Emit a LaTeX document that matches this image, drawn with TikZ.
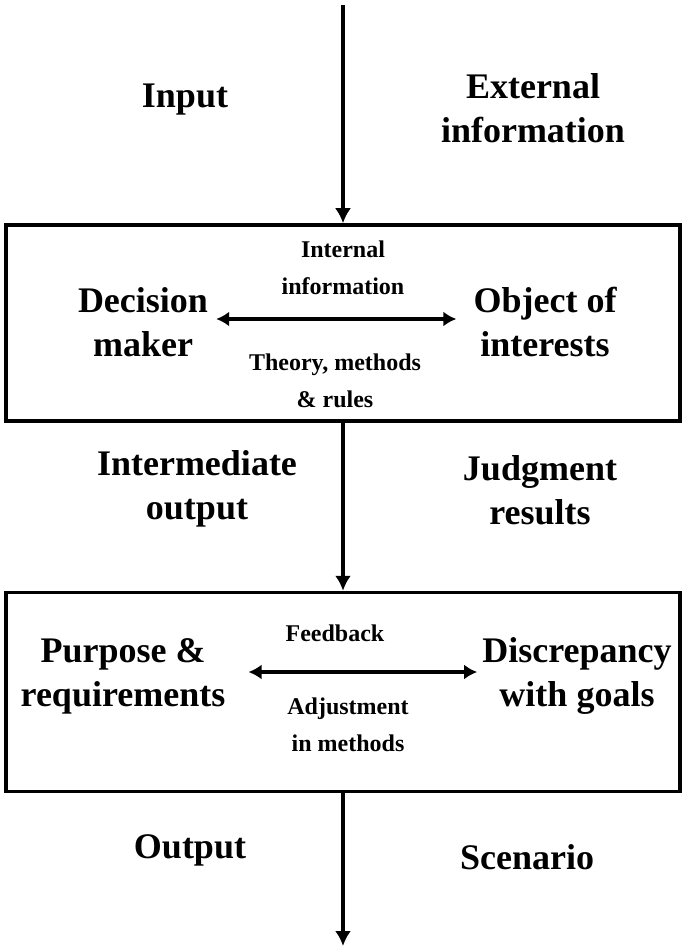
\documentclass[tikz,border=0pt]{standalone}
\usepackage{fontspec}
\setmainfont{Liberation Serif}
\usetikzlibrary{arrows.meta}

\begin{document}
\begin{tikzpicture}[
    x=1pt, y=-1pt,
    bigtext/.style={align=center, font=\fontsize{36}{44}\selectfont\bfseries, inner sep=3pt},
    smalltext/.style={align=center, font=\fontsize{24}{37}\selectfont\bfseries, inner sep=3pt},
    stagebox/.style={rectangle, draw=black, line width=3.5pt, minimum width=674pt, inner sep=0pt},
    arrow/.style={-{Latex[length=15pt, width=16pt]}, line width=3.5pt},
    biarrow/.style={{Latex[length=13pt, width=15pt]}-{Latex[length=13pt, width=15pt]}, line width=3.5pt},
]
\useasboundingbox (0,0) rectangle (685,949);

% === INPUT ===
\coordinate (start) at (343,5);
\node[bigtext] at (185,100) (input) {Input};
\node[bigtext] at (533,108) (external) {External\\information};

% === FIRST STAGE ===
\node[stagebox, minimum height=196pt] at (343,323) (stage1) {};
\node[smalltext] at (343,268) (internal) {Internal\\information};
\node[bigtext] at (143,322) (decision) {Decision\\maker};
\node[bigtext] at (545,322) (object) {Object of\\interests};
\node[smalltext] at (335,381) (theory) {Theory, methods\\\& rules};

% === INTERMEDIATE ===
\node[bigtext] at (197,489) (intermediate) {Intermediate\\output};
\node[bigtext] at (540,490) (judgment) {Judgment\\results};

% === SECOND STAGE ===
\node[stagebox, minimum height=199pt] at (343,692) (stage2) {};
\node[smalltext] at (335,633) (feedback) {Feedback};
\node[bigtext] at (123,676) (purpose) {Purpose \&\\requirements};
\node[bigtext] at (577,676) (discrepancy) {Discrepancy\\with goals};
\node[smalltext] at (348,725) (adjustment) {Adjustment\\in methods};

% === OUTPUT ===
\node[bigtext] at (190,850) (output) {Output};
\node[bigtext] at (527,857) (scenario) {Scenario};
\coordinate (finish) at (343,946);

% === ARROWS ===
\draw[arrow] (start) -- (stage1.north);
\draw[biarrow, shorten <=5pt, shorten >=14pt] ([yshift=3pt]decision.east) -- ([yshift=3pt]object.west);
\draw[arrow] (stage1.south) -- (stage2.north);
\draw[biarrow, shorten <=20pt, shorten >=2pt] ([yshift=4pt]purpose.east) -- ([yshift=4pt]discrepancy.west);
\draw[arrow] (stage2.south) -- (finish);

\end{tikzpicture}
\end{document}
